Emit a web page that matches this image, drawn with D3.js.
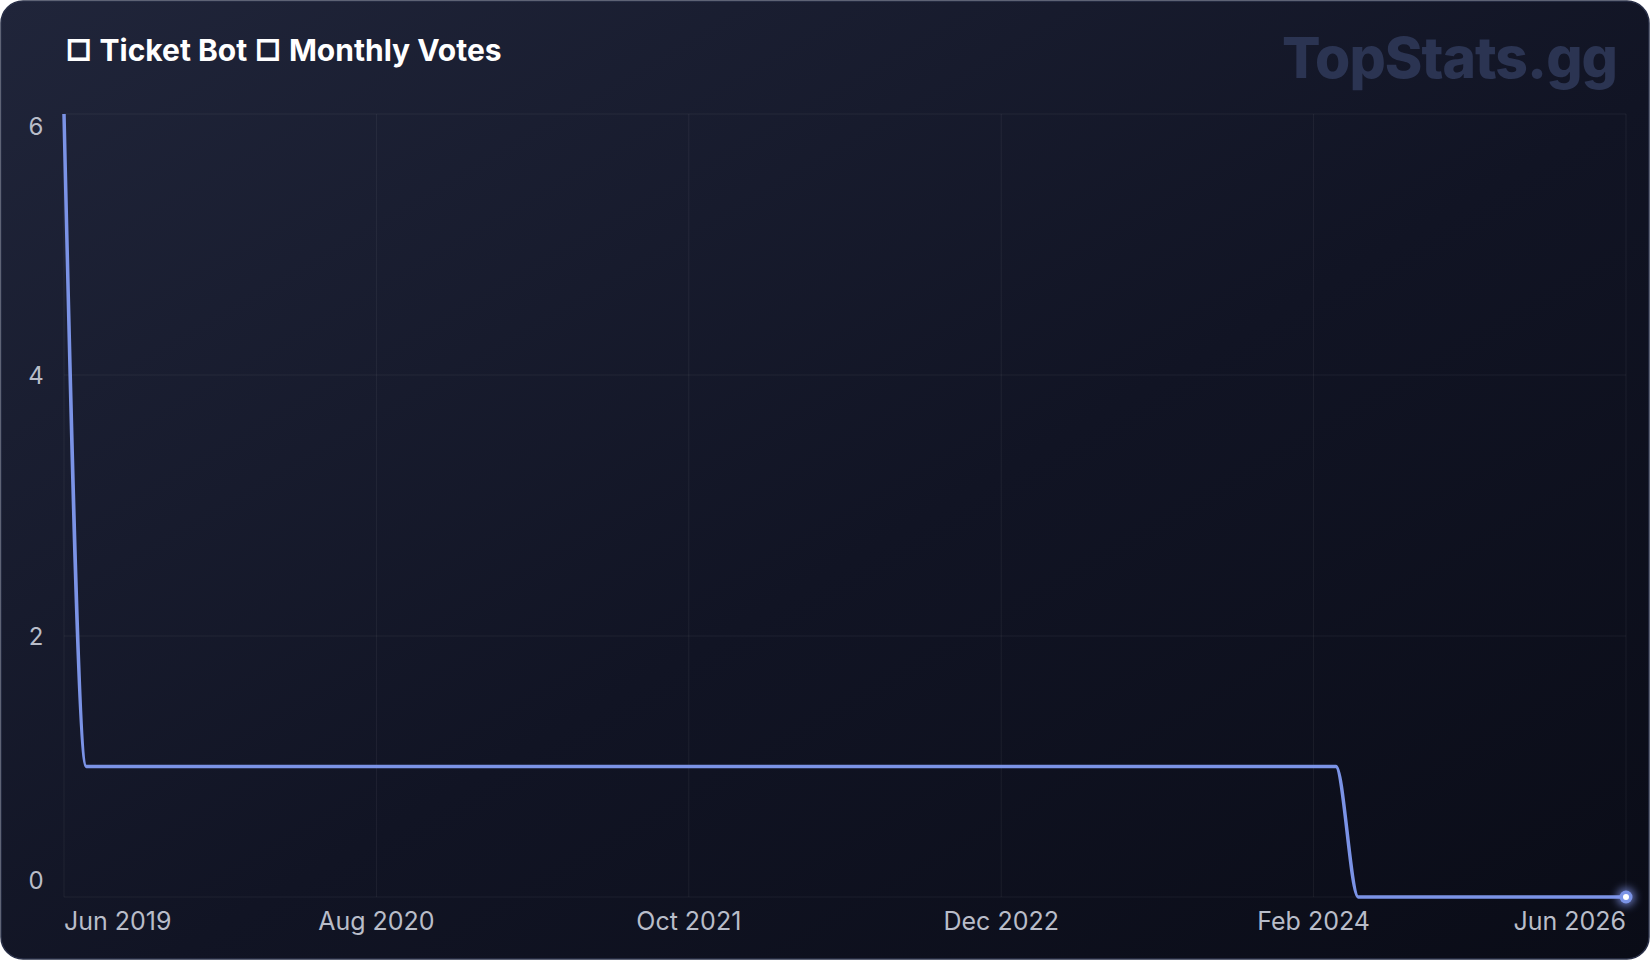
<!DOCTYPE html>
<html><head><meta charset="utf-8">
<script src="https://cdn.jsdelivr.net/npm/d3@7/dist/d3.min.js"></script>
<style>html,body{margin:0;padding:0;background:#fff;}svg{display:block;font-family:Inter,"Noto Sans",sans-serif;}</style>
</head><body>
<script>
const title = "\u25A1 Ticket Bot \u25A1 Monthly Votes";
const watermark = "TopStats.gg";
const values = [6,
 1,1,1,1,1,1,1,1,1,1, 1,1,1,1,1,1,1,1,1,1,
 1,1,1,1,1,1,1,1,1,1, 1,1,1,1,1,1,1,1,1,1,
 1,1,1,1,1,1,1,1,1,1, 1,1,1,1,1,1,1,
 0,0,0,0,0,0,0,0,0,0,0,0,0];
const tickIndex = [0,14,28,42,56,70];
const tickLabels = ["Jun 2019","Aug 2020","Oct 2021","Dec 2022","Feb 2024","Jun 2026"];
const yTicks = [0,2,4,6];

const W=1650,H=960;
const svg=d3.select("body").append("svg").attr("width",W).attr("height",H);
const defs=svg.append("defs");
const g=defs.append("linearGradient").attr("id","bg").attr("x1","0").attr("y1","0").attr("x2","1").attr("y2","1");
g.append("stop").attr("offset","0").attr("stop-color","#20253a");
g.append("stop").attr("offset","0.55").attr("stop-color","#111424");
g.append("stop").attr("offset","1").attr("stop-color","#0a0c17");
const f=defs.append("filter").attr("id","glow").attr("x","-2").attr("y","-2").attr("width","5").attr("height","5");
f.append("feGaussianBlur").attr("stdDeviation","4");
svg.append("rect").attr("x",1).attr("y",1).attr("width",W-2).attr("height",H-2).attr("rx",22)
  .attr("fill","url(#bg)").attr("stroke","#2a3048").attr("stroke-width",1.5);

const m={l:64,r:1626,t:114,b:897};
const x=d3.scaleLinear().domain([0,values.length-1]).range([m.l,m.r]);
const y=d3.scaleLinear().domain([0,6]).range([m.b,m.t]);

const grid=svg.append("g").attr("stroke","#ffffff").attr("stroke-opacity",0.06);
tickIndex.forEach(i=>grid.append("line").attr("x1",x(i)).attr("x2",x(i)).attr("y1",m.t).attr("y2",m.b));
yTicks.forEach(v=>grid.append("line").attr("x1",m.l).attr("x2",m.r).attr("y1",y(v)).attr("y2",y(v)));

svg.append("g").selectAll("text").data(yTicks).join("text")
  .attr("x",36).attr("text-anchor","middle")
  .attr("y",v=>Math.min(Math.max(y(v)+9,m.t+21),m.b-8))
  .attr("fill","#b9bdc9").attr("font-size",24).text(v=>v);

svg.append("g").selectAll("text").data(tickIndex).join("text")
  .attr("x",i=>x(i)).attr("y",930)
  .attr("text-anchor",(d,k)=>k===0?"start":(k===tickIndex.length-1?"end":"middle"))
  .attr("fill","#b9bdc9").attr("font-size",25).text((d,k)=>tickLabels[k]);

const line=d3.line().x((d,i)=>x(i)).y(d=>y(d)).curve(d3.curveMonotoneX);
svg.append("path").datum(values).attr("d",line).attr("fill","none")
  .attr("stroke","#7b93e6").attr("stroke-width",3.5).attr("stroke-linejoin","round");

const li=values.length-1;
svg.append("circle").attr("cx",x(li)).attr("cy",y(values[li])).attr("r",9).attr("fill","#8fa3ff").attr("opacity",0.7).attr("filter","url(#glow)");
svg.append("circle").attr("cx",x(li)).attr("cy",y(values[li])).attr("r",6.5).attr("fill","#7b93e6");
svg.append("circle").attr("cx",x(li)).attr("cy",y(values[li])).attr("r",3).attr("fill","#ffffff");

svg.append("text").attr("x",65).attr("y",61).attr("fill","#ffffff").attr("font-size",30).attr("font-weight",700).text(title);
svg.append("text").attr("x",1617).attr("y",78).attr("text-anchor","end").attr("fill","#2b3452").attr("font-size",57).attr("font-weight",800).attr("letter-spacing",-1).text(watermark);
</script>
</body></html>
